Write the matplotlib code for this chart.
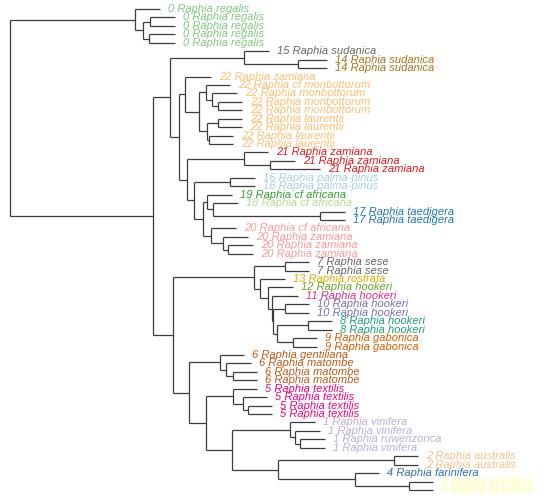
import re
import matplotlib
matplotlib.use("Agg")
import matplotlib.pyplot as plt

NEWICK = (
    "((0:25,((1:25,2:25):7,(3:26,4:26):6):8):125,"
    "(((5:25,(6:29,7:29):54):74,"
    "((8:26,((9:24,(10:25,(11:24,12:24):6):6):7,((13:24,14:24):11,(15:24,16:24):2):8):14):6,"
    "((17:24,(18:25,19:50):26):57,"
    "((20:25,21:25):36,"
    "((22:25,(23:25,(24:25,25:25):107):6):4,"
    "(26:25,(27:25,(28:25,29:25):5):12):8):9):7):8):9):17,"
    "(((30:24,31:24):31,(32:25,(33:25,(34:26,((35:24,36:24):12,((37:24,38:24):31,(39:24,40:24):16):4):1):4):8):6):81,"
    "((41:24,(42:25,(43:24,44:24):7):6):31,"
    "((45:24,(46:24,(47:24,48:24):5):10):27,"
    "((49:25,(50:25,(51:25,52:25):5):5):58,"
    "((53:24,54:24):116,(55:24,(56:24,57:24):54):77):46):26):17):16):20):143);"
)

TIP_LABELS = [
    "Raphia regalis", "Raphia regalis", "Raphia regalis", "Raphia regalis", "Raphia regalis",
    "Raphia sudanica", "Raphia sudanica", "Raphia sudanica",
    "Raphia zamiana", "Raphia cf monbottorum", "Raphia monbottorum", "Raphia monbottorum",
    "Raphia monbottorum", "Raphia laurentii", "Raphia laurentii", "Raphia laurentii",
    "Raphia laurentii",
    "Raphia zamiana", "Raphia zamiana", "Raphia zamiana",
    "Raphia palma-pinus", "Raphia palma-pinus",
    "Raphia cf africana", "Raphia cf africana", "Raphia taedigera", "Raphia taedigera",
    "Raphia cf africana", "Raphia zamiana", "Raphia zamiana", "Raphia zamiana",
    "Raphia sese", "Raphia sese", "Raphia rostrata", "Raphia hookeri", "Raphia hookeri",
    "Raphia hookeri", "Raphia hookeri", "Raphia hookeri", "Raphia hookeri",
    "Raphia gabonica", "Raphia gabonica",
    "Raphia gentiliana", "Raphia matombe", "Raphia matombe", "Raphia matombe",
    "Raphia textilis", "Raphia textilis", "Raphia textilis", "Raphia textilis",
    "Raphia vinifera", "Raphia vinifera", "Raphia ruwenzorica", "Raphia vinifera",
    "Raphia australis", "Raphia australis", "Raphia farinifera",
    "Raphia farinifera", "Raphia farinifera",
]

TIP_GROUP = [
    0, 0, 0, 0, 0,
    15, 14, 14,
    22, 22, 22, 22, 22, 22, 22, 22, 22,
    21, 21, 21,
    16, 16,
    19, 18, 17, 17,
    20, 20, 20, 20,
    7, 7, 13, 12, 11, 10, 10, 8, 8, 9, 9,
    6, 6, 6, 6,
    5, 5, 5, 5,
    1, 1, 1, 1,
    2, 2, 4, 3, 3,
]

# Accent + Dark2 + Paired
GROUP_COLORS = [
    "#7fc97f", "#beaed4", "#fdc086", "#ffff99", "#386cb0", "#f0027f", "#bf5b17", "#666666",
    "#1b9e77", "#d95f02", "#7570b3", "#e7298a", "#66a61e", "#e6ab02", "#a6761d", "#666666",
    "#a6cee3", "#1f78b4", "#b2df8a", "#33a02c", "#fb9a99", "#e31a1c", "#fdbf6f",
]


def parse(s):
    tokens = re.findall(r"\(|\)|,|:[0-9.]+|[^(),:;]+", s)
    pos = 0

    def node():
        nonlocal pos
        n = {"children": [], "tip": None, "len": 0.0}
        if tokens[pos] == "(":
            pos += 1
            while True:
                n["children"].append(node())
                if tokens[pos] == ",":
                    pos += 1
                else:
                    break
            pos += 1  # ')'
        else:
            n["tip"] = int(tokens[pos])
            pos += 1
        if pos < len(tokens) and tokens[pos].startswith(":"):
            n["len"] = float(tokens[pos][1:])
            pos += 1
        return n

    return node()


def layout(n, x0):
    n["x"] = x0 + n["len"]
    if n["tip"] is not None:
        n["y"] = n["tip"] + 1
    else:
        for c in n["children"]:
            layout(c, n["x"])
        n["y"] = sum(c["y"] for c in n["children"]) / len(n["children"])


def draw(ax, n):
    if n["tip"] is not None:
        i = n["tip"]
        g = TIP_GROUP[i]
        ax.text(n["x"] + 8, n["y"], f"{g} {TIP_LABELS[i]}", color=GROUP_COLORS[g],
                fontsize=8, style="italic", family="Liberation Sans",
                va="center", ha="left")
        return
    ys = [c["y"] for c in n["children"]]
    ax.plot([n["x"], n["x"]], [min(ys), max(ys)], color=LINE, lw=0.9, solid_capstyle="butt")
    for c in n["children"]:
        ax.plot([n["x"], c["x"]], [c["y"], c["y"]], color=LINE, lw=0.9, solid_capstyle="butt")
        draw(ax, c)


LINE = "#3c3c3c"

tree = parse(NEWICK)
tree["len"] = 0.0
layout(tree, 0.0)

fig = plt.figure(figsize=(5.5, 5.03), dpi=100)
ax = fig.add_axes([0, 0, 1, 1])
draw(ax, tree)
ax.set_xlim(-10, 540)
ax.set_ylim(59.54, -0.066)
ax.axis("off")
fig.savefig("out.png", dpi=100)
